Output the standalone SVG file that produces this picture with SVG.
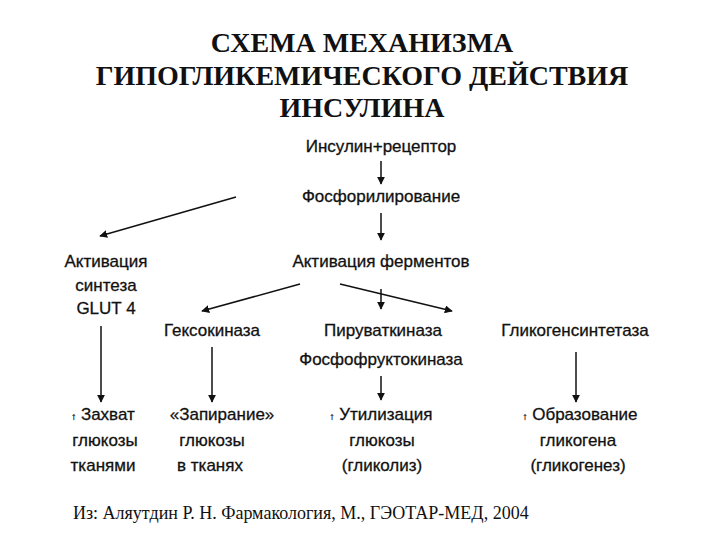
<svg xmlns="http://www.w3.org/2000/svg" width="720" height="540" viewBox="0 0 720 540">
<style>
.t{font-family:"Liberation Serif",serif;font-weight:bold;font-size:28px;text-anchor:middle;fill:#111}
.n{font-family:"Liberation Sans",Arial,sans-serif;font-size:17px;text-anchor:middle;fill:#111;stroke:#111;stroke-width:0.3}
.u{font-size:10px}
.f{font-family:"Liberation Serif",serif;font-size:18px;fill:#111}
.c line{stroke:#111;stroke-width:1.5;marker-end:url(#a)}
</style>
<defs><marker id="a" viewBox="0 0 10 10" refX="9" refY="5" markerWidth="8" markerHeight="8" orient="auto" markerUnits="userSpaceOnUse"><path d="M0,0L10,5L0,10z" fill="#111"/></marker></defs>
<rect width="720" height="540" fill="#fff"/>
<g id="title"><text class="t" x="362" y="52">СХЕМА МЕХАНИЗМА</text><text class="t" x="362" y="85">ГИПОГЛИКЕМИЧЕСКОГО ДЕЙСТВИЯ</text><text class="t" x="362" y="117">ИНСУЛИНА</text></g>
<g id="n1"><text class="n" x="381" y="152">Инсулин+рецептор</text></g>
<g id="n2"><text class="n" x="381" y="202">Фосфорилирование</text></g>
<g id="n3"><text class="n" x="106" y="267">Активация</text><text class="n" x="106" y="291">синтеза</text><text class="n" x="106" y="314">GLUT 4</text></g>
<g id="n4"><text class="n" x="381" y="267">Активация ферментов</text></g>
<g id="n5"><text class="n" x="212" y="336">Гексокиназа</text></g>
<g id="n6"><text class="n" x="383" y="336">Пируваткиназа</text><text class="n" x="381" y="365">Фосфофруктокиназа</text></g>
<g id="n7"><text class="n" x="575" y="336">Гликогенсинтетаза</text></g>
<g id="n8"><text class="n" x="103" y="420"><tspan class="u">↑</tspan> Захват</text><text class="n" x="105" y="446">глюкозы</text><text class="n" x="103" y="471">тканями</text></g>
<g id="n9"><text class="n" x="222" y="420">«Запирание»</text><text class="n" x="212" y="446">глюкозы</text><text class="n" x="210" y="471">в тканях</text></g>
<g id="n10"><text class="n" x="381" y="420"><tspan class="u">↑</tspan> Утилизация</text><text class="n" x="382" y="446">глюкозы</text><text class="n" x="382" y="471">(гликолиз)</text></g>
<g id="n11"><text class="n" x="580" y="420"><tspan class="u">↑</tspan> Образование</text><text class="n" x="578" y="446">гликогена</text><text class="n" x="578" y="471">(гликогенез)</text></g>
<g class="c" id="connectors">
<line x1="381" y1="161" x2="381" y2="184"/>
<line x1="236" y1="197" x2="100" y2="236"/>
<line x1="381" y1="213" x2="381" y2="240"/>
<line x1="300" y1="284" x2="202" y2="311"/>
<line x1="381" y1="289" x2="381" y2="309"/>
<line x1="340" y1="284" x2="452" y2="311"/>
<line x1="101" y1="326" x2="101" y2="402"/>
<line x1="212" y1="347" x2="212" y2="402"/>
<line x1="381" y1="376" x2="381" y2="400"/>
<line x1="576" y1="352" x2="576" y2="402"/>
</g>
<g id="source"><text class="f" x="73" y="519">Из: Аляутдин Р. Н. Фармакология, М., ГЭОТАР-МЕД, 2004</text></g>
</svg>
